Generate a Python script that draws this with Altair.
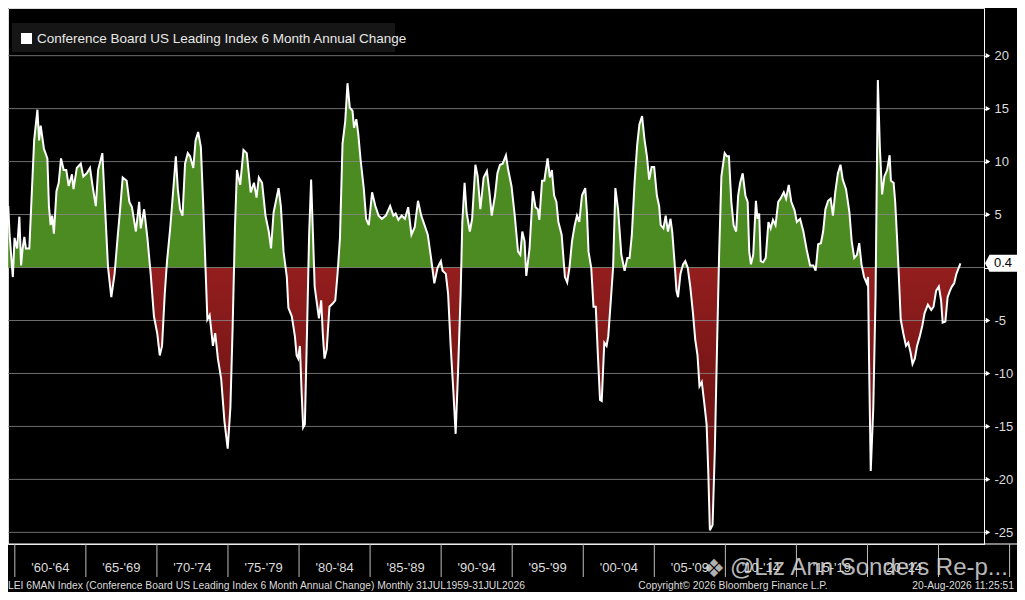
import altair as alt
import pandas as pd

# ---------------- data ----------------
years = [
    1959.54, 1959.63, 1959.86, 1959.98, 1960.16, 1960.32, 1960.44, 1960.55, 1960.67, 1960.78,
    1961.02, 1961.36, 1961.59, 1961.71, 1961.82, 1962.05, 1962.29, 1962.40, 1962.52, 1962.63,
    1962.75, 1962.93, 1963.09, 1963.25, 1963.44, 1963.62, 1963.79, 1964.02, 1964.13, 1964.36,
    1964.64, 1964.82, 1965.06, 1965.29, 1965.47, 1965.70, 1965.86, 1966.16, 1966.33, 1966.56,
    1966.79, 1967.02, 1967.25, 1967.41, 1967.59, 1967.87, 1968.06, 1968.24, 1968.52, 1968.75,
    1968.86, 1969.10, 1969.33, 1969.56, 1969.79, 1970.02, 1970.20, 1970.36, 1970.55, 1970.71,
    1970.94, 1971.17, 1971.33, 1971.47, 1971.63, 1971.80, 1971.98, 1972.17, 1972.33, 1972.56,
    1972.72, 1972.90, 1973.09, 1973.25, 1973.37, 1973.55, 1973.71, 1973.94, 1974.10, 1974.29,
    1974.52, 1974.75, 1974.98, 1975.17, 1975.33, 1975.49, 1975.63, 1975.86, 1976.09, 1976.32,
    1976.60, 1976.83, 1977.01, 1977.17, 1977.40, 1977.64, 1977.87, 1978.03, 1978.21, 1978.56,
    1978.72, 1978.91, 1979.14, 1979.25, 1979.49, 1979.71, 1979.83, 1979.94, 1980.06, 1980.18,
    1980.29, 1980.41, 1980.57, 1980.71, 1980.85, 1980.98, 1981.10, 1981.26, 1981.40, 1981.56,
    1981.67, 1981.79, 1981.95, 1982.14, 1982.37, 1982.55, 1982.71, 1982.88, 1983.06, 1983.25,
    1983.41, 1983.57, 1983.76, 1983.87, 1984.03, 1984.17, 1984.33, 1984.56, 1984.72, 1984.91,
    1985.14, 1985.37, 1985.60, 1985.83, 1986.11, 1986.41, 1986.64, 1986.80, 1986.99, 1987.22,
    1987.45, 1987.68, 1987.91, 1988.14, 1988.37, 1988.60, 1988.83, 1989.06, 1989.29, 1989.52,
    1989.75, 1989.98, 1990.10, 1990.33, 1990.49, 1990.67, 1990.86, 1991.02, 1991.18, 1991.37,
    1991.49, 1991.65, 1991.79, 1992.02, 1992.18, 1992.41, 1992.57,
    1992.76, 1992.99, 1993.22, 1993.40, 1993.56, 1993.79, 1993.96, 1994.14, 1994.33, 1994.56,
    1994.72, 1994.95, 1995.18, 1995.41, 1995.57, 1995.71, 1995.87, 1995.99, 1996.22, 1996.45,
    1996.64, 1996.80, 1996.91, 1997.10, 1997.26, 1997.49, 1997.65, 1997.79, 1997.95, 1998.11,
    1998.25, 1998.48, 1998.71, 1998.87, 1999.03, 1999.21, 1999.40, 1999.56, 1999.72, 1999.91,
    2000.14, 2000.26, 2000.37, 2000.56, 2000.72, 2000.88, 2001.02, 2001.18, 2001.30, 2001.48,
    2001.64, 2001.76, 2001.94, 2002.10, 2002.26, 2002.45, 2002.68, 2002.91, 2003.10, 2003.26,
    2003.42, 2003.61, 2003.79, 2003.95, 2004.14, 2004.30, 2004.48, 2004.64, 2004.81, 2004.99,
    2005.18, 2005.34, 2005.45, 2005.64, 2005.80, 2005.96, 2006.14, 2006.26, 2006.42, 2006.56,
    2006.67, 2006.84, 2007.02, 2007.18, 2007.35, 2007.53, 2007.72, 2007.88, 2008.04, 2008.18,
    2008.34, 2008.50, 2008.68, 2008.80, 2008.91, 2009.10, 2009.26, 2009.42, 2009.56, 2009.72,
    2009.95, 2010.11, 2010.25, 2010.42, 2010.58, 2010.76, 2010.90, 2011.04, 2011.22, 2011.41,
    2011.57, 2011.68, 2011.80, 2011.96, 2012.15, 2012.26, 2012.38, 2012.49, 2012.66, 2012.84,
    2013.03, 2013.19, 2013.35, 2013.53, 2013.72, 2013.88, 2014.11, 2014.27, 2014.46, 2014.64,
    2014.87, 2015.03, 2015.26, 2015.49, 2015.72, 2015.96, 2016.19, 2016.35, 2016.53, 2016.72,
    2016.88, 2017.04, 2017.23, 2017.41, 2017.57, 2017.73, 2017.92, 2018.10, 2018.26, 2018.49,
    2018.73, 2018.89, 2019.07, 2019.26, 2019.42, 2019.58, 2019.76, 2019.95, 2020.04, 2020.11,
    2020.23, 2020.41, 2020.57, 2020.73, 2020.87, 2021.03, 2021.19, 2021.38, 2021.56, 2021.65,
    2021.84, 2021.95, 2022.07, 2022.18, 2022.34, 2022.52, 2022.71, 2022.87, 2023.03, 2023.17,
    2023.33, 2023.49, 2023.68, 2023.86, 2024.02, 2024.25, 2024.49, 2024.65, 2024.83, 2025.02,
    2025.18, 2025.29, 2025.48, 2025.64, 2025.80, 2025.94, 2026.10, 2026.26, 2026.54,
]
lei = [
    5.8, 3.1, -0.9, 2.8, 1.8, 4.8, 0.2, 1.8, 2.9, 1.8,
    1.8, 12.0, 14.9, 12.0, 13.4, 11.2, 10.3, 5.8, 4.0, 4.9,
    3.2, 7.2, 8.0, 10.3, 9.2, 9.2, 7.7, 8.8, 7.4, 9.4,
    9.8, 8.6, 8.9, 9.4, 7.7, 5.8, 9.2, 10.8, 6.2, 0.0,
    -2.8, -0.6, 3.1, 5.5, 8.5, 8.2, 6.2, 5.7, 3.4, 6.2,
    3.7, 5.5, 2.8, -0.6, -4.6, -6.2, -8.3, -7.4, -2.5, 0.6,
    3.8, 7.7, 10.5, 7.4, 5.5, 4.9, 9.8, 10.8, 10.5, 9.4,
    12.0, 12.8, 11.4, 6.2, 1.8, -4.9, -4.5, -7.4, -6.2, -8.6,
    -10.5, -14.5, -17.1, -13.2, -5.5, 3.7, 9.2, 7.8, 11.1, 10.8,
    7.1, 8.0, 6.6, 8.5, 8.0, 4.9, 3.4, 1.8, 5.2, 7.5,
    5.8, 1.5, -0.9, -3.8, -4.6, -6.5, -8.3, -8.6, -7.4, -11.7,
    -15.1, -14.8, -5.5, 3.1, 8.3, 3.1, -1.8, -3.4, -4.8, -3.1,
    -6.2, -8.6, -7.7, -3.7, -3.4, -3.1, -0.6, 2.8, 11.7, 13.8,
    17.4, 15.1, 14.8, 13.2, 14.0, 12.6, 10.2, 7.4, 4.6, 4.0,
    7.1, 5.8, 4.9, 4.6, 4.9, 5.8, 4.9, 5.1, 4.5, 4.9,
    4.6, 5.7, 3.1, 3.8, 6.3, 4.9, 4.0, 3.1, 0.9, -1.5,
    0.0, 0.6, -0.3, -0.6, -2.5, -7.4, -11.7, -15.7, -10.2, -2.5,
    4.3, 8.0, 5.2, 3.4, 4.6, 9.7, 8.6,
    5.5, 8.5, 9.1, 7.1, 4.9, 6.8, 8.9, 9.7, 9.8, 10.6,
    9.2, 7.7, 4.9, 1.5, 1.2, 3.4, 2.5, -0.8, 1.8, 7.2,
    5.7, 5.5, 4.5, 8.2, 8.2, 10.3, 8.5, 9.2, 6.8, 6.2,
    4.3, 3.1, -0.9, -1.4, 0.0, 2.5, 4.0, 4.9, 4.3, 6.8,
    7.5, 5.2, 1.5, 0.0, -3.7, -3.7, -8.0, -12.5, -12.6, -7.1,
    -7.4, -6.5, -3.1, 0.0, 7.5, 5.5, 1.2, -0.3, 0.9, 0.9,
    3.1, 8.0, 11.5, 13.5, 14.3, 12.2, 10.5, 8.3, 9.5, 9.5,
    6.8, 5.8, 4.0, 3.7, 4.9, 3.4, 4.6, 3.4, 0.6, -2.2,
    -2.8, -0.6, 0.3, 0.6, 0.0, -1.8, -4.3, -6.8, -8.3, -11.2,
    -10.8, -12.6, -14.8, -19.4, -24.8, -24.3, -17.2, -7.1, 1.2, 8.6,
    10.8, 10.5, 10.5, 6.2, 4.0, 3.4, 6.8, 8.0, 8.9, 6.8,
    6.2, 1.5, 0.3, 1.2, 6.3, 4.6, 5.1, 0.6, 0.5, 0.9,
    4.3, 3.7, 4.5, 4.0, 6.2, 6.5, 7.1, 6.5, 7.8, 6.2,
    5.4, 4.3, 4.6, 3.4, 1.7, 0.2, 0.2, -0.3, 2.2, 2.3,
    3.4, 5.5, 6.3, 6.5, 4.9, 7.1, 8.9, 9.7, 8.3, 7.4,
    5.2, 2.5, 0.9, 1.2, 2.3, 0.3, -0.9, -1.5, -0.9, -8.6,
    -19.2, -13.2, -2.5, 17.7, 11.4, 6.9, 8.6, 9.2, 10.6, 8.2,
    8.0, 6.2, 3.1, 0.0, -4.9, -6.2, -7.4, -7.1, -8.0, -9.1,
    -8.6, -7.4, -6.5, -5.5, -4.3, -3.5, -4.0, -3.7, -2.2, -1.8,
    -3.1, -5.2, -5.1, -2.8, -2.2, -1.8, -1.5, -0.6, 0.4,
]
last_value = [0.4]
period_bounds = [1960, 1965, 1970, 1975, 1980, 1985, 1990, 1995, 2000, 2005, 2010, 2015, 2020, 2025, 2030]
period_centers = [1962.5, 1967.5, 1972.5, 1977.5, 1982.5, 1987.5, 1992.5, 1997.5, 2002.5, 2007.5,
                  2012.5, 2017.5, 2022.5]
period_labels = ["'60-'64", "'65-'69", "'70-'74", "'75-'79", "'80-'84", "'85-'89", "'90-'94",
                 "'95-'99", "'00-'04", "'05-'09", "'10-'14", "'15-'19", "'20-'24"]
grid_values = [-25, -20, -15, -10, -5, 0, 5, 10, 15, 20]
major_ticks = [-25, -20, -15, -10, -5, 5, 10, 15, 20]
axis_ticks = [-25, -22.5, -20, -17.5, -15, -12.5, -10, -7.5, -5, -2.5, 0,
              2.5, 5, 7.5, 10, 12.5, 15, 17.5, 20, 22.5]
legend_title = "Conference Board US Leading Index 6 Month Annual Change"
footer_left = "LEI 6MAN Index (Conference Board US Leading Index 6 Month Annual Change) Monthly 31JUL1959-31JUL2026"
footer_mid = "Copyright\u00a9 2026 Bloomberg Finance L.P."
footer_right = "20-Aug-2026 11:25:51"
watermark = "@Liz Ann Sonders Re-p..."

# ---------------- layout / style ----------------
W, H = 976, 536
FONT = "Liberation Sans"
GREEN = "#4b8b22"
RED_TOP = "#941e1e"
RED_BOT = "#520c0c"
TXT = "#dcdcdc"

df = pd.DataFrame({"year": years, "v": lei})
vmax = max(max(lei), 0)
vmin = min(min(lei), 0)
f = vmax / (vmax - vmin)

xs = alt.Scale(domain=[1959.52, 2028.2], nice=False, zero=False)
ys = alt.Scale(domain=[-26.1, 24.5], nice=False, zero=False)

gradient = alt.Gradient(
    gradient="linear",
    x1=0, x2=0, y1=0, y2=1,
    stops=[
        alt.GradientStop(offset=0, color=GREEN),
        alt.GradientStop(offset=f, color=GREEN),
        alt.GradientStop(offset=f, color=RED_TOP),
        alt.GradientStop(offset=1, color=RED_BOT),
    ],
)

base = alt.Chart(df)

area = base.mark_area(color=gradient, interpolate="linear").encode(
    x=alt.X("year:Q", scale=xs, axis=None),
    y=alt.Y(
        "v:Q", scale=ys,
        axis=alt.Axis(
            orient="right", values=axis_ticks, grid=False, title=None,
            labelExpr="(datum.value % 5 == 0 && datum.value != 0) ? toString(datum.value) : ''",
            tickSize=4, tickColor="#ffffff", domainColor="#ffffff", domainWidth=1,
            labelColor=TXT, labelFont=FONT, labelFontSize=13, labelPadding=6,
        ),
    ),
    y2=alt.datum(0),
)

grid = alt.Chart(pd.DataFrame({"g": grid_values})).mark_rule(
    color="#8a8a8a", strokeWidth=1, opacity=0.8
).encode(y=alt.Y("g:Q", scale=ys))

line = base.mark_line(color="#ffffff", strokeWidth=2, interpolate="linear").encode(
    x=alt.X("year:Q", scale=xs), y=alt.Y("v:Q", scale=ys)
)

tri = alt.Chart(pd.DataFrame({"m": major_ticks})).mark_point(
    shape="triangle-right", filled=True, color="#ffffff", size=28, opacity=1
).encode(x=alt.value(W + 4), y=alt.Y("m:Q", scale=ys))

last_df = pd.DataFrame({"lv": last_value, "lt": [str(v) for v in last_value]})
last_box = alt.Chart(last_df).mark_point(
    shape="M-1,0L-0.72,-0.53L1,-0.53L1,0.53L-0.72,0.53Z",
    filled=True, color="#ffffff", size=1024, opacity=1,
).encode(x=alt.value(W + 17), y=alt.Y("lv:Q", scale=ys))
last_txt = alt.Chart(last_df).mark_text(
    color="#000000", font=FONT, fontSize=13, align="center", baseline="middle"
).encode(x=alt.value(W + 19), y=alt.Y("lv:Q", scale=ys), text="lt:N")

# x axis band
one = pd.DataFrame({"k": [0]})
xbase = alt.Chart(one).mark_rule(color="#ffffff", strokeWidth=1).encode(
    x=alt.value(0), x2=alt.value(W + 40), y=alt.value(H)
)
seps = alt.Chart(pd.DataFrame({"b": period_bounds})).mark_rule(
    color="#bdbdbd", strokeWidth=1
).encode(x=alt.X("b:Q", scale=xs), y=alt.value(H), y2=alt.value(H + 33))
xlabels = alt.Chart(pd.DataFrame({"c": period_centers, "l": period_labels})).mark_text(
    color=TXT, font=FONT, fontSize=13, align="center", baseline="middle"
).encode(x=alt.X("c:Q", scale=xs), y=alt.value(H + 24), text="l:N")

# legend box
leg_df = pd.DataFrame({"t": [legend_title]})
leg_bg = alt.Chart(leg_df).mark_rect(color="#161616").encode(
    x=alt.value(4), x2=alt.value(387), y=alt.value(15), y2=alt.value(44)
)
leg_sq = alt.Chart(leg_df).mark_rect(color="#ffffff").encode(
    x=alt.value(13), x2=alt.value(24), y=alt.value(25), y2=alt.value(36)
)
leg_txt = alt.Chart(leg_df).mark_text(
    color="#e8e8e8", font=FONT, fontSize=13.5, align="left", baseline="middle"
).encode(x=alt.value(29), y=alt.value(30.5), text="t:N")

# footer
foot_df = pd.DataFrame({"a": [footer_left], "b": [footer_mid], "c": [footer_right]})
foot_l = alt.Chart(foot_df).mark_text(
    color=TXT, font=FONT, fontSize=10.3, align="left", baseline="middle"
).encode(x=alt.value(0), y=alt.value(H + 42), text="a:N")
foot_m = alt.Chart(foot_df).mark_text(
    color=TXT, font=FONT, fontSize=10.3, align="center", baseline="middle"
).encode(x=alt.value(725), y=alt.value(H + 42), text="b:N")
foot_r = alt.Chart(foot_df).mark_text(
    color=TXT, font=FONT, fontSize=10.3, align="right", baseline="middle"
).encode(x=alt.value(1006), y=alt.value(H + 42), text="c:N")

# watermark overlay
wm_df = pd.DataFrame({"w": [watermark], "i": ["\u2756"]})
wm_icon = alt.Chart(wm_df).mark_text(
    color="#d0d0d0", opacity=0.85, font="DejaVu Sans", fontSize=25, align="center", baseline="middle"
).encode(x=alt.value(706), y=alt.value(H + 25), text="i:N")
wm_txt = alt.Chart(wm_df).mark_text(
    color="#d8d8d8", opacity=0.85, font=FONT, fontSize=24, align="left", baseline="middle"
).encode(x=alt.value(722), y=alt.value(H + 24), text="w:N")

chart = alt.layer(
    area, grid, line, tri, last_box, last_txt,
    xbase, seps, xlabels, leg_bg, leg_sq, leg_txt,
    foot_l, foot_m, foot_r, wm_icon, wm_txt,
).properties(
    width=W, height=H,
    background="#000000",
    padding={"left": 0, "top": 0, "right": 1009 - W, "bottom": 584 - H},
    autosize=alt.AutoSizeParams(type="none"),
).configure_view(stroke=None).configure(font=FONT)

chart.save("out.html", embed_options={"renderer": "svg", "actions": False})
